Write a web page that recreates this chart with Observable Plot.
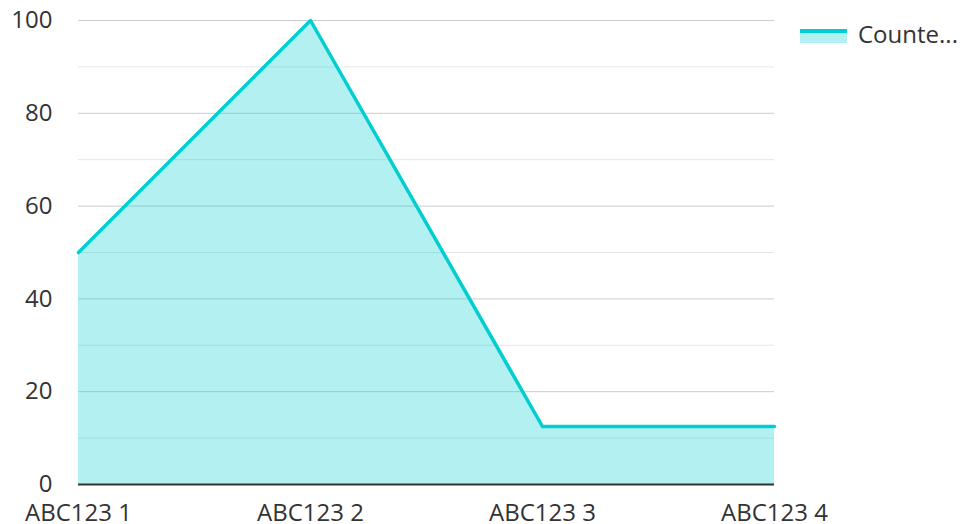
<!DOCTYPE html>
<html>
<head>
<meta charset="utf-8">
<script src="https://cdn.jsdelivr.net/npm/d3@7"></script>
<script src="https://cdn.jsdelivr.net/npm/@observablehq/plot@0.6"></script>
<style>
  html, body { margin: 0; padding: 0; background: #fff; }
  #wrap { position: relative; width: 963px; height: 524px; font-family: "Open Sans", sans-serif; }
  #wrap svg { overflow: visible; }
  #legend { position: absolute; left: 800px; top: 17px; display: flex; align-items: center; font-size: 24px; color: #333; white-space: nowrap; }
  #legend .sw { width: 47px; height: 14px; margin-right: 11px; position: relative; top: 2px; }
  #legend .sw .ln { height: 4px; background: #00ced1; }
  #legend .sw .fl { height: 10px; background: rgba(0,206,209,0.3); }
</style>
</head>
<body>
<div id="wrap"></div>
<script>
const categories = ["ABC123 1", "ABC123 2", "ABC123 3", "ABC123 4"];
const values = [50, 100, 12.5, 12.5];
const seriesName = "Counte...";
const majorTicks = [0, 20, 40, 60, 80, 100];
const minorTicks = [10, 30, 50, 70, 90];

const data = categories.map((c, i) => ({cat: c, value: values[i]}));

const chart = Plot.plot({
  width: 963,
  height: 524,
  marginLeft: 78,
  marginRight: 189,
  marginTop: 20,
  marginBottom: 40,
  style: {fontFamily: "Open Sans, sans-serif", fontSize: "24px", color: "#333", background: "#fff", overflow: "visible"},
  x: {type: "point", domain: categories, padding: 0, label: null},
  y: {domain: [0, 100], label: null},
  marks: [
    Plot.ruleY(minorTicks, {stroke: "#e6e6e6", strokeWidth: 1}),
    Plot.ruleY(majorTicks.filter(d => d !== 0), {stroke: "#cccccc", strokeWidth: 1}),
    Plot.areaY(data, {x: "cat", y: "value", fill: "#00ced1", fillOpacity: 0.3}),
    Plot.lineY(data, {x: "cat", y: "value", stroke: "#00ced1", strokeWidth: 3.5}),
    Plot.ruleY([0], {stroke: "#333", strokeWidth: 2}),
    Plot.axisY({ticks: majorTicks, tickSize: 0, tickPadding: 26, fontSize: 24, fill: "#333", label: null}),
    Plot.axisX({tickSize: 0, tickPadding: 19, fontSize: 24, fill: "#333", label: null})
  ]
});

const wrap = document.getElementById("wrap");
wrap.appendChild(chart);
const legend = document.createElement("div");
legend.id = "legend";
legend.innerHTML = '<div class="sw"><div class="ln"></div><div class="fl"></div></div><span></span>';
legend.querySelector("span").textContent = seriesName;
wrap.appendChild(legend);
</script>
</body>
</html>
